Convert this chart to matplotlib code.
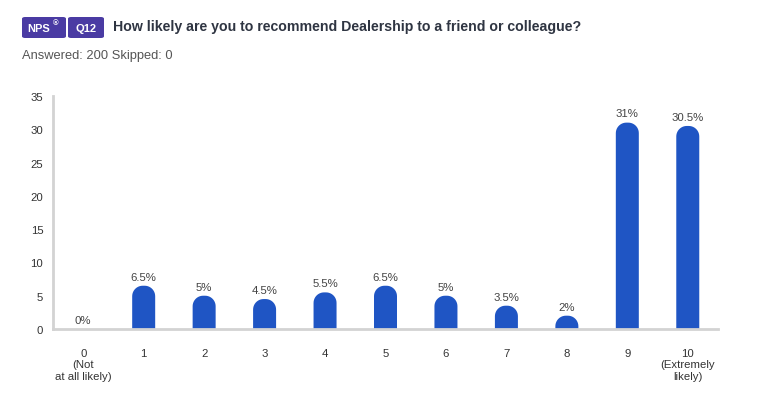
import numpy as np
import matplotlib
matplotlib.use("Agg")
import matplotlib.pyplot as plt
from matplotlib.path import Path
from matplotlib.patches import PathPatch, FancyBboxPatch

plt.rcParams['font.family'] = ['Liberation Sans', 'DejaVu Sans']

categories = ["0\n(Not\nat all likely)", "1", "2", "3", "4", "5", "6", "7", "8", "9",
              "10\n(Extremely\nlikely)"]
percents = [0, 6.5, 5, 4.5, 5.5, 6.5, 5, 3.5, 2, 31, 30.5]
yticks = [0, 5, 10, 15, 20, 25, 30, 35]
title = "How likely are you to recommend Dealership to a friend or colleague?"
subtitle = "Answered: 200 Skipped: 0"

bar_color = "#1f55c4"
badge_color = "#4a3ba3"

fig = plt.figure(figsize=(7.68, 4.14), dpi=100)
ax = fig.add_axes([53 / 768, 1 - 330 / 414, 665 / 768, 233 / 414])
ax.set_xlim(-0.5, len(categories) - 0.5)
ax.set_ylim(0, 35)

# pixel -> data scale for rounded tops
px_x = (ax.get_xlim()[1] - ax.get_xlim()[0]) / 665
px_y = 35 / 233
bar_w = 23 * px_x
r_px = 10.5


def rounded_bar(x, h):
    if h <= 0:
        return
    rx = min(r_px * px_x, bar_w / 2)
    ry = min(r_px * px_y, h)
    left, right = x - bar_w / 2, x + bar_w / 2
    t = np.linspace(0, np.pi / 2, 12)
    verts = [(left, 0), (right, 0), (right, h - ry)]
    # right corner then left corner
    for a in t:
        verts.append((right - rx + rx * np.cos(a), h - ry + ry * np.sin(a)))
    for a in t:
        verts.append((left + rx - rx * np.sin(a), h - ry + ry * np.cos(a)))
    verts.append((left, 0))
    codes = [Path.MOVETO] + [Path.LINETO] * (len(verts) - 2) + [Path.CLOSEPOLY]
    ax.add_patch(PathPatch(Path(verts, codes), facecolor=bar_color, edgecolor="none", zorder=2))


for i, v in enumerate(percents):
    rounded_bar(i, v)
    ax.annotate(f"{v:g}%", (i, v), xytext=(0, 3), textcoords="offset points",
                ha="center", va="bottom", fontsize=8.2, color="#444444")

ax.set_xticks(range(len(categories)))
ax.set_xticklabels(categories, fontsize=8.2, color="#333333", linespacing=1.2)
ax.set_yticks(yticks)
ax.set_yticklabels([str(t) for t in yticks], fontsize=8.2, color="#333333")
ax.tick_params(axis="both", length=0)
ax.tick_params(axis="x", pad=13.5)
ax.tick_params(axis="y", pad=7)
for s in ["top", "right"]:
    ax.spines[s].set_visible(False)
for s in ["left", "bottom"]:
    ax.spines[s].set_color("#d3d3d3")
    ax.spines[s].set_linewidth(2)

# header badges
for x0, x1 in [(22, 66), (68, 104)]:
    fig.patches.append(FancyBboxPatch((x0 / 768, 1 - 39 / 414), (x1 - x0) / 768, 21 / 414,
                                      boxstyle="round,pad=0,rounding_size=0.004",
                                      transform=fig.transFigure, facecolor=badge_color,
                                      edgecolor="none"))
fig.text(39 / 768, 1 - 29 / 414, "NPS", color="white", fontsize=8, fontweight="bold",
         ha="center", va="center")
fig.text(56 / 768, 1 - 24 / 414, "®", color="white", fontsize=5.5, fontweight="bold",
         ha="center", va="center")
fig.text(86 / 768, 1 - 29 / 414, "Q12", color="white", fontsize=8, fontweight="bold",
         ha="center", va="center")
fig.text(113 / 768, 1 - 27 / 414, title, color="#2f3542", fontsize=10.2,
         fontweight="bold", ha="left", va="center")
fig.text(22 / 768, 1 - 56 / 414, subtitle, color="#555555", fontsize=9.3,
         ha="left", va="center")

fig.savefig("out.png", dpi=100)
